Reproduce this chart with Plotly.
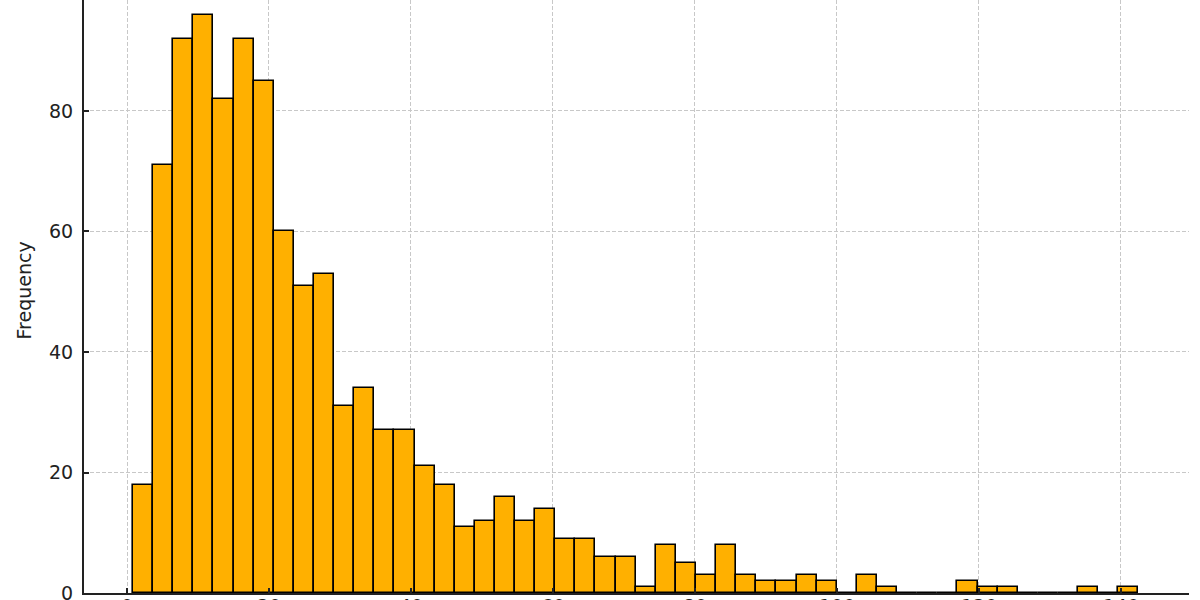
import plotly.graph_objects as go

# Histogram data (50 equal-width bins)
bin_start = 0.85
bin_width = 2.832
counts = [18, 71, 92, 96, 82, 92, 85, 60, 51, 53,
          31, 34, 27, 27, 21, 18, 11, 12, 16, 12,
          14, 9, 9, 6, 6, 1, 8, 5, 3, 8,
          3, 2, 2, 3, 2, 0, 3, 1, 0, 0,
          0, 2, 1, 1, 0, 0, 0, 1, 0, 1]
x_tickvals = [0, 20, 40, 60, 80, 100, 120, 140]
x_ticktext = ["0", "20", "40", "60", "80", "100", "120", "140"]
y_tickvals = [0, 20, 40, 60, 80]
y_title = "Frequency"

centers = [bin_start + (i + 0.5) * bin_width for i in range(len(counts))]

fig = go.Figure()
fig.add_trace(go.Bar(
    x=centers, y=counts, width=bin_width,
    marker=dict(color="#FFB000", line=dict(color="#000000", width=1.6)),
    showlegend=False,
))

grid = dict(showgrid=True, gridcolor="#c8c8c8", gridwidth=1, griddash="4px,2px")
fig.update_layout(
    width=1200, height=600,
    margin=dict(l=84, r=11, t=0, b=7, pad=0, autoexpand=False),
    plot_bgcolor="white", paper_bgcolor="white",
    bargap=0,
    font=dict(family="DejaVu Sans", size=19, color="#222222"),
    xaxis=dict(
        range=[-6.056, 149.58], tickvals=x_tickvals,
        ticks="inside", ticklen=5, tickwidth=1.5, tickcolor="#222222",
        showline=True, linecolor="#222222", linewidth=2,
        zeroline=False, showticklabels=False,
        automargin=False, **grid,
    ),
    yaxis=dict(
        range=[0, 98.42], tickvals=y_tickvals,
        ticks="inside", ticklen=5, tickwidth=1.5, tickcolor="#222222",
        showline=True, linecolor="#222222", linewidth=2,
        zeroline=False, ticklabelstandoff=5, ticklabeloverflow="allow",
        automargin=False, **grid,
    ),
)

# x tick labels (the reference crops them at the bottom edge)
for v, t in zip(x_tickvals, x_ticktext):
    fig.add_annotation(x=v, xref="x", y=0, yref="paper", text=t,
                       showarrow=False, xanchor="center", yanchor="top",
                       yshift=0, font=dict(size=19, color="#222222"))

# y-axis title
fig.add_annotation(x=0, xref="paper", y=0.5, yref="paper", text=y_title,
                   textangle=-90, showarrow=False, xanchor="center",
                   yanchor="middle", xshift=-61, yshift=6,
                   font=dict(size=19, color="#222222"))

fig.write_html("out.html", config={"displayModeBar": False},
               post_script="document.body.style.margin='0';")
